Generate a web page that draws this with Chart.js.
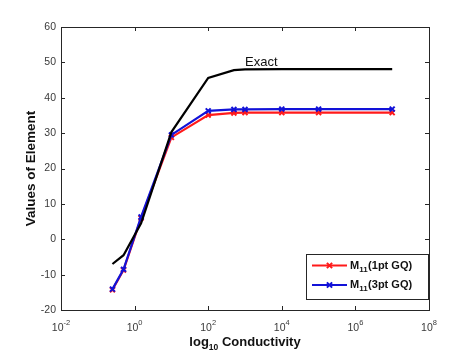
<!DOCTYPE html>
<html><head><meta charset="utf-8">
<script src="https://cdn.jsdelivr.net/npm/chart.js@4/dist/chart.umd.min.js"></script>
<style>html,body{margin:0;padding:0;background:#fff;} #wrap{width:474px;height:355px;}</style>
</head><body><div id="wrap"><canvas id="c" width="474" height="355"></canvas></div>
<script>
const conductivity = [0.25, 0.5, 1.5, 10, 100, 500, 1000, 1e4, 1e5, 1e7];
const exactValues = [-7.0, -4.5, 4.5, 30.3, 45.6, 47.8, 48.0, 48.1, 48.1, 48.1];
const gq1Values = [-14.3, -8.7, 6.0, 28.8, 35.1, 35.7, 35.8, 35.8, 35.8, 35.8];
const gq3Values = [-14.1, -8.5, 6.3, 29.5, 36.3, 36.7, 36.7, 36.8, 36.8, 36.8];
const xTickExponents = [-2, 0, 2, 4, 6, 8];
const yTicks = [-20, -10, 0, 10, 20, 30, 40, 50, 60];
const seriesLabels = ['(1pt GQ)', '(3pt GQ)'];
const exactLabel = 'Exact';

const toPts = (ys) => conductivity.map((x, i) => ({x: x, y: ys[i]}));
const AX = '#262626', TXT = '#3a3a3a';
const RED = '#ff1a1a', BLUE = '#1212d8';
const FF = '"Liberation Sans", Arial, sans-serif';

function supText(ctx, base, sup, cx, baseY, font, supFont, supRise) {
  ctx.font = font; const wb = ctx.measureText(base).width;
  ctx.font = supFont; const ws = ctx.measureText(sup).width;
  const x0 = cx - (wb + ws) / 2;
  ctx.textAlign = 'left'; ctx.textBaseline = 'alphabetic';
  ctx.font = font; ctx.fillText(base, x0, baseY);
  ctx.font = supFont; ctx.fillText(sup, x0 + wb, baseY - supRise);
}

const decor = {
  id: 'decor',
  afterDatasetsDraw(chart) {
    const ctx = chart.ctx, a = chart.chartArea;
    const xs = chart.scales.x, ys = chart.scales.y;
    ctx.save();
    // box
    ctx.strokeStyle = AX; ctx.lineWidth = 1;
    ctx.strokeRect(Math.round(a.left) + 0.5, Math.round(a.top) + 0.5, Math.round(a.right - a.left), Math.round(a.bottom - a.top));
    // ticks
    ctx.beginPath();
    xTickExponents.forEach(e => {
      const px = Math.round(xs.getPixelForValue(Math.pow(10, e))) + 0.5;
      ctx.moveTo(px, a.bottom); ctx.lineTo(px, a.bottom - 4);
      ctx.moveTo(px, a.top); ctx.lineTo(px, a.top + 4);
    });
    yTicks.forEach(v => {
      const py = Math.round(ys.getPixelForValue(v)) + 0.5;
      ctx.moveTo(a.left, py); ctx.lineTo(a.left + 4, py);
      ctx.moveTo(a.right, py); ctx.lineTo(a.right - 4, py);
    });
    ctx.stroke();
    // y tick labels
    ctx.fillStyle = TXT;
    ctx.font = '10.5px ' + FF;
    ctx.textAlign = 'right'; ctx.textBaseline = 'middle';
    yTicks.forEach(v => ctx.fillText(String(v), a.left - 5, ys.getPixelForValue(v)));
    // x tick labels
    xTickExponents.forEach(e => {
      const px = xs.getPixelForValue(Math.pow(10, e));
      supText(ctx, '10', String(e), px, a.bottom + 21,
        '10.5px ' + FF, '7.5px ' + FF, 6);
    });
    // x title with subscript
    ctx.fillStyle = '#111';
    const fB = 'bold 13px ' + FF;
    const fS = 'bold 8.5px ' + FF;
    ctx.font = fB; const w1 = ctx.measureText('log').width;
    ctx.font = fS; const w2 = ctx.measureText('10').width;
    ctx.font = fB; const w3 = ctx.measureText(' Conductivity').width;
    const cx = (a.left + a.right) / 2;
    let x0 = cx - (w1 + w2 + w3) / 2;
    const by = a.bottom + 36;
    ctx.textAlign = 'left'; ctx.textBaseline = 'alphabetic';
    ctx.font = fB; ctx.fillText('log', x0, by);
    ctx.font = fS; ctx.fillText('10', x0 + w1, by + 4);
    ctx.font = fB; ctx.fillText(' Conductivity', x0 + w1 + w2, by);
    // y title
    ctx.save();
    ctx.translate(31, (a.top + a.bottom) / 2);
    ctx.rotate(-Math.PI / 2);
    ctx.textAlign = 'center'; ctx.textBaseline = 'middle';
    ctx.font = 'bold 13.5px ' + FF; ctx.fillText('Values of Element', 0, 0);
    ctx.restore();
    // Exact annotation at data coordinates
    ctx.fillStyle = '#111';
    ctx.font = '13px ' + FF;
    ctx.textAlign = 'left'; ctx.textBaseline = 'middle';
    ctx.fillText(exactLabel, xs.getPixelForValue(1000), ys.getPixelForValue(50));
    // legend
    const lx = 306.5, ly = 254.5, lw = 122, lh = 45;
    ctx.fillStyle = '#fff'; ctx.fillRect(lx, ly, lw, lh);
    ctx.strokeStyle = AX; ctx.lineWidth = 1; ctx.strokeRect(lx, ly, lw, lh);
    const rows = [{c: RED, y: 265.5, t: seriesLabels[0]}, {c: BLUE, y: 285, t: seriesLabels[1]}];
    rows.forEach(r => {
      ctx.strokeStyle = r.c; ctx.lineWidth = 2;
      ctx.beginPath(); ctx.moveTo(312, r.y); ctx.lineTo(347, r.y); ctx.stroke();
      const m = 329.5, s = 2.6;
      ctx.beginPath(); ctx.moveTo(m - s, r.y - s); ctx.lineTo(m + s, r.y + s);
      ctx.moveTo(m - s, r.y + s); ctx.lineTo(m + s, r.y - s); ctx.stroke();
      ctx.fillStyle = '#111'; ctx.textAlign = 'left'; ctx.textBaseline = 'alphabetic';
      const fL = 'bold 11px ' + FF;
      const fLs = 'bold 8px ' + FF;
      ctx.font = fL; const mw = ctx.measureText('M').width;
      ctx.fillText('M', 350, r.y + 3);
      ctx.font = fLs; const sw = ctx.measureText('11').width;
      ctx.fillText('11', 350 + mw, r.y + 6);
      ctx.font = fL; ctx.fillText(r.t, 350 + mw + sw + 0.5, r.y + 3);
    });
    ctx.restore();
  }
};

new Chart(document.getElementById('c'), {
  type: 'line',
  data: {
    datasets: [
      {label: 'Exact', data: toPts(exactValues), borderColor: '#000', borderWidth: 2.2, pointRadius: 0, order: 0, tension: 0},
      {label: 'M11(3pt GQ)', data: toPts(gq3Values), borderColor: BLUE, borderWidth: 2.2, pointStyle: 'crossRot', pointRadius: 3.5, pointBorderWidth: 2, pointBorderColor: BLUE, order: 1, tension: 0},
      {label: 'M11(1pt GQ)', data: toPts(gq1Values), borderColor: RED, borderWidth: 2.2, pointStyle: 'crossRot', pointRadius: 3.5, pointBorderWidth: 2, pointBorderColor: RED, order: 2, tension: 0}
    ]
  },
  options: {
    responsive: false, animation: false, devicePixelRatio: 1,
    layout: {padding: {left: 61, right: 45, top: 27, bottom: 45}},
    plugins: {legend: {display: false}, tooltip: {enabled: false}},
    scales: {
      x: {type: 'logarithmic', min: 0.01, max: 1e8, display: false},
      y: {type: 'linear', min: -20, max: 60, display: false}
    }
  },
  plugins: [decor]
});
</script>
</body></html>
